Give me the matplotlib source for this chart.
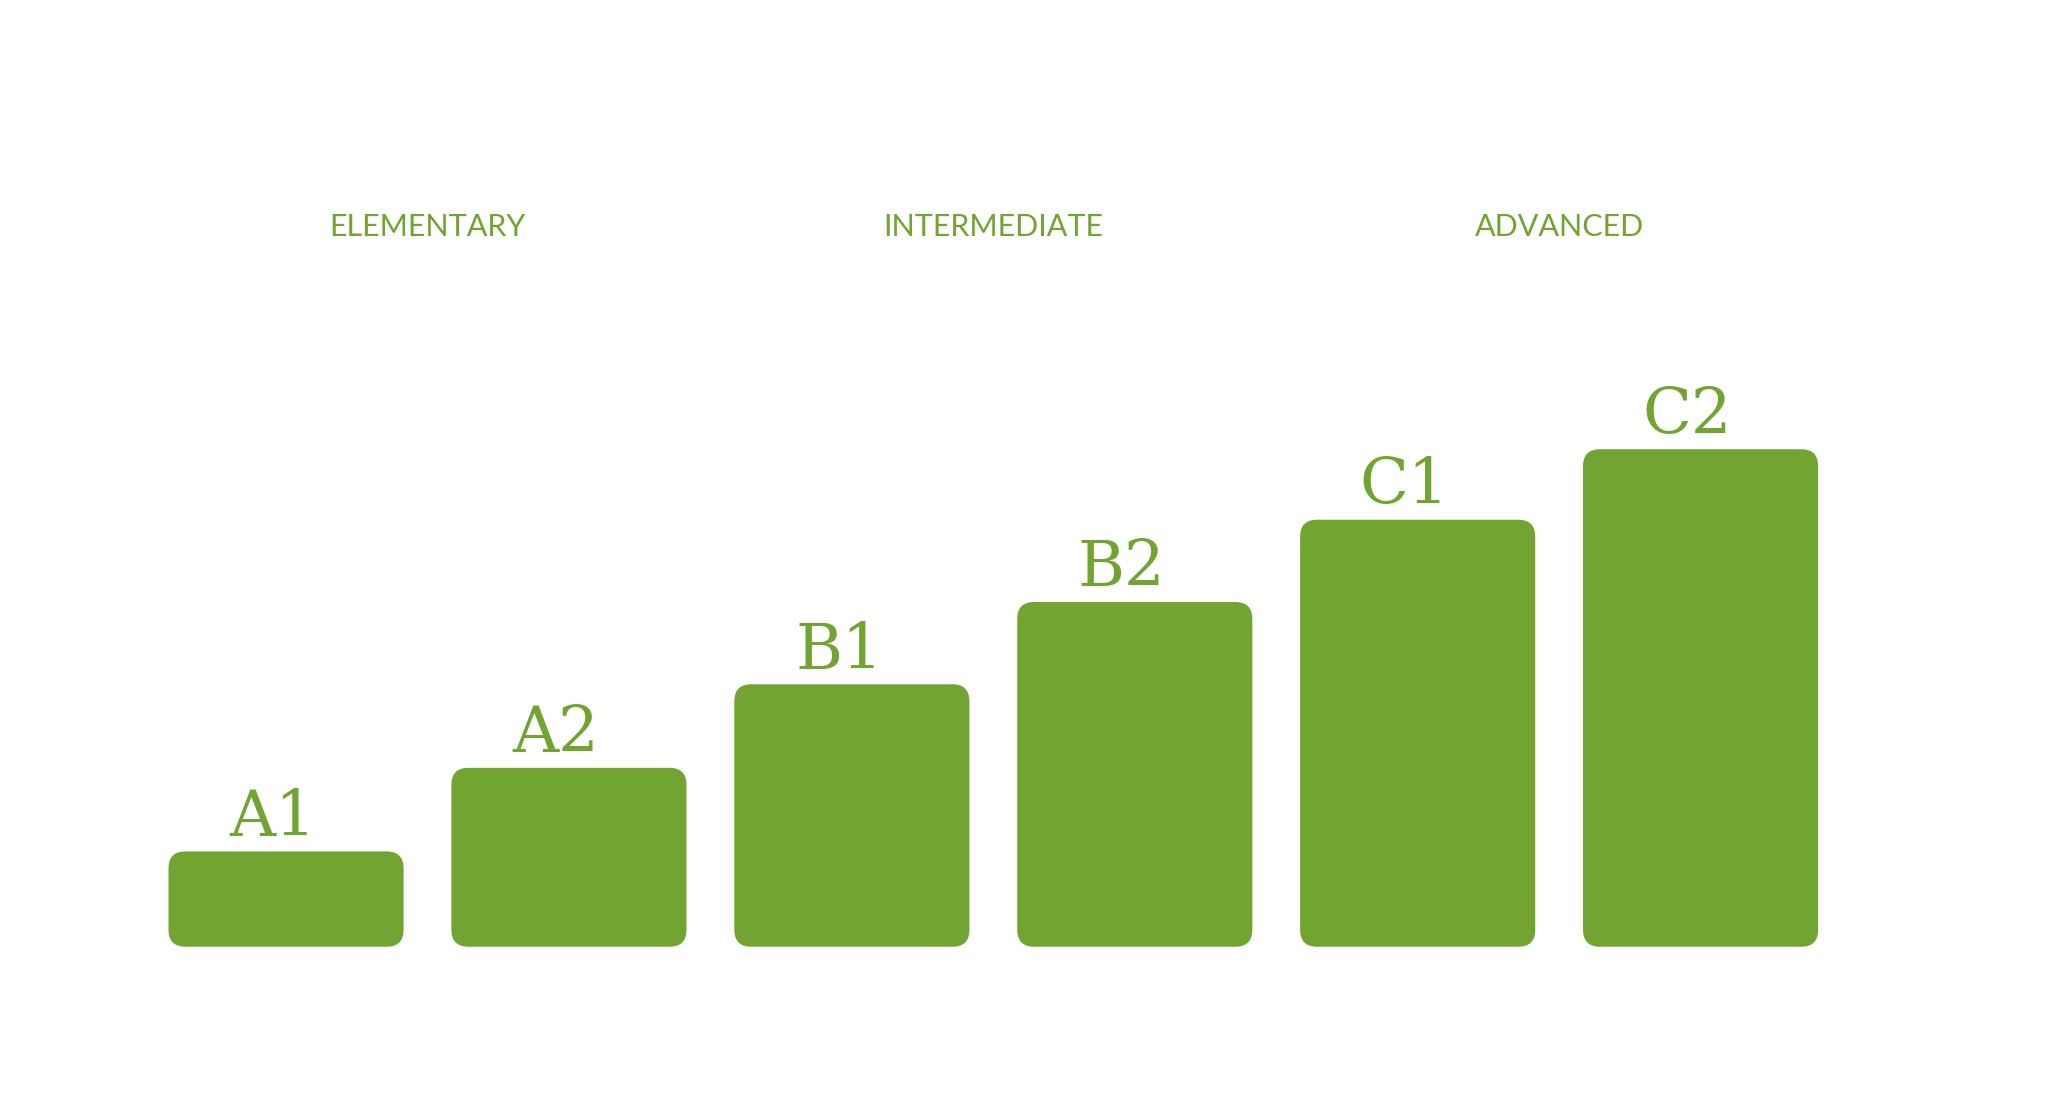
import matplotlib.pyplot as plt
from matplotlib.patches import FancyBboxPatch

levels = ["A1", "A2", "B1", "B2", "C1", "C2"]
heights = [73, 137, 201, 264, 327, 381]
groups = ["ELEMENTARY", "INTERMEDIATE", "ADVANCED"]
green = "#72a431"

fig = plt.figure(figsize=(20.48, 10.93), dpi=100)
ax = fig.add_axes([0, 0, 1, 1])
ax.set_xlim(0, 1568)
ax.set_ylim(837, 0)
ax.axis("off")

base = 725
w = 180
for i, (lab, h) in enumerate(zip(levels, heights)):
    x0 = 129 + i * 216.6
    r = 13
    ax.add_patch(FancyBboxPatch((x0 + r, base - h + r), w - 2 * r, h - 2 * r,
                                boxstyle=f"round,pad={r}", fc=green, ec="none"))
    ax.text(x0 + w / 2 - 10, base - h - 12, lab, ha="center", va="baseline",
            fontsize=46, color=green, family="DejaVu Serif")

for i, g in enumerate(groups):
    xc = (129 + 2 * i * 216.6 + 129 + (2 * i + 1) * 216.6 + w) / 2
    ax.text(xc, 181, g, ha="center", va="baseline", fontsize=22,
            color=green, family="Lato")

fig.savefig("out.png", dpi=100)
